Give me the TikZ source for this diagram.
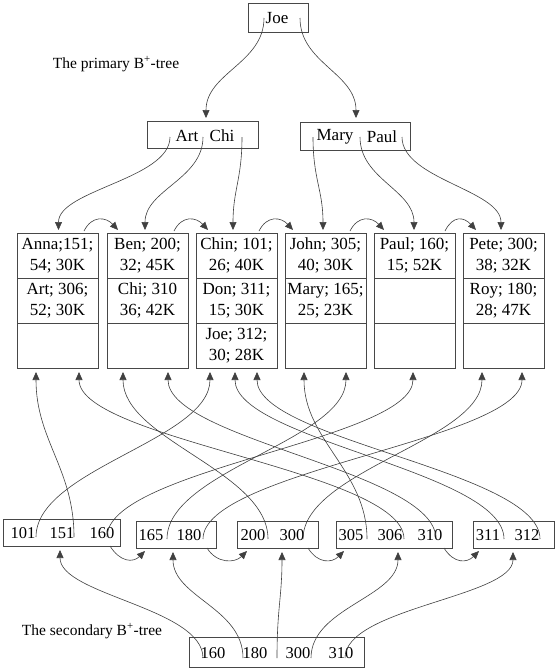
\documentclass[tikz,border=0pt]{standalone}
\usepackage{fontspec}
\setmainfont{Liberation Serif}
\usetikzlibrary{arrows.meta}
\begin{document}
\begin{tikzpicture}[x=1pt,y=-1pt,
  box/.style={draw=black!72,line width=0.9pt,inner sep=0pt,fill=none},
  cell/.style={box,minimum width=81pt,minimum height=45pt,align=center,
    font=\fontsize{17}{20.5}\selectfont},
  lbl/.style={inner sep=0pt,font=\fontsize{17}{20}\selectfont},
  num/.style={inner sep=0pt,font=\fontsize{16.5}{19}\selectfont},
  captext/.style={inner sep=0pt,font=\fontsize{15.5}{18}\selectfont},
  ptr/.style={draw=black!75,line width=0.6pt,-{Triangle[length=8pt,width=7pt]}}]
\useasboundingbox (0,0) rectangle (556,670);
\fill[white] (0,0) rectangle (556,670);

% ---------- primary tree ----------
\node[box,minimum width=60pt,minimum height=29pt] (joe) at (278,17.5) {};
\node[lbl] (joet) at (277,18) {Joe};
\node[captext] (ptitle) at (116,64) {The primary B\textsuperscript{+}-tree};

\node[box,minimum width=111pt,minimum height=27pt] (ac) at (202.5,134.5) {};
\node[lbl] (art) at (187,136) {Art};
\node[lbl] (chi) at (222,136) {Chi};
\node[box,minimum width=110pt,minimum height=28pt] (mp) at (355,136) {};
\node[lbl] (mary) at (335,137) {Mary};
\node[lbl] (paul) at (382,137) {Paul};

% leaf cells
\node[cell] (b1r1) at (57.5,255.5) {Anna;151;\\54; 30K};
\node[cell] (b1r2) at (57.5,300.5) {Art; 306;\\52; 30K};
\node[cell] (b1r3) at (57.5,345.5) {};
\node[cell] (b2r1) at (147.5,255.5) {Ben; 200;\\32; 45K};
\node[cell] (b2r2) at (147.5,300.5) {Chi; 310\\36; 42K};
\node[cell] (b2r3) at (147.5,345.5) {};
\node[cell] (b3r1) at (236.5,255.5) {Chin; 101;\\26; 40K};
\node[cell] (b3r2) at (236.5,300.5) {Don; 311;\\15; 30K};
\node[cell] (b3r3) at (236.5,345.5) {Joe; 312;\\30; 28K};
\node[cell] (b4r1) at (325.5,255.5) {John; 305;\\40; 30K};
\node[cell] (b4r2) at (325.5,300.5) {Mary; 165;\\25; 23K};
\node[cell] (b4r3) at (325.5,345.5) {};
\node[cell] (b5r1) at (414.5,255.5) {Paul; 160;\\15; 52K};
\node[cell] (b5r2) at (414.5,300.5) {};
\node[cell] (b5r3) at (414.5,345.5) {};
\node[cell] (b6r1) at (503.5,255.5) {Pete; 300;\\38; 32K};
\node[cell] (b6r2) at (503.5,300.5) {Roy; 180;\\28; 47K};
\node[cell] (b6r3) at (503.5,345.5) {};

% pointer stubs and tips (primary)
\coordinate (j1) at (264,18);  \coordinate (j2) at (300,18);
\coordinate (tac) at (206,118); \coordinate (tmp) at (356,118);
\coordinate (a1) at (170,137); \coordinate (a2) at (203,137); \coordinate (a3) at (242,137);
\coordinate (m1) at (313,137); \coordinate (m2) at (360,137); \coordinate (m3) at (402,137);
\coordinate (tb1) at (58.5,230); \coordinate (tb2) at (145,230); \coordinate (tb3) at (233,230);
\coordinate (tb4) at (323,230);  \coordinate (tb5) at (414,230); \coordinate (tb6) at (501,230);

\draw[ptr] (j1) .. controls +(0,45) and +(0,-45) .. (tac);
\draw[ptr] (j2) .. controls +(0,45) and +(0,-45) .. (tmp);
\draw[ptr] (a1) .. controls +(0,42) and +(0,-40) .. (tb1);
\draw[ptr] (a2) .. controls +(0,42) and +(0,-40) .. (tb2);
\draw[ptr] (a3) .. controls +(0,42) and +(0,-40) .. (tb3);
\draw[ptr] (m1) .. controls +(0,42) and +(0,-40) .. (tb4);
\draw[ptr] (m2) .. controls +(0,42) and +(0,-40) .. (tb5);
\draw[ptr] (m3) .. controls +(0,42) and +(0,-40) .. (tb6);

% sibling pointers (primary leaves)
\foreach \s/\e/\n in {84/118/1,174/208/2,259/293/3,350/384/4,445/476/5}{
  \coordinate (ps\n) at (\s,231);
  \coordinate (pe\n) at (\e,230);
  \draw[ptr] (ps\n) .. controls +(8,-16) and +(-12,-13) .. (pe\n);
}

% ---------- secondary tree ----------
\node[box,minimum width=117pt,minimum height=27pt] (sa) at (61.5,532.5) {};
\node[box,minimum width=80pt,minimum height=27pt] (sb) at (176,534.5) {};
\node[box,minimum width=81pt,minimum height=27pt] (sc) at (277.5,534.5) {};
\node[box,minimum width=116pt,minimum height=27pt] (sd) at (394,534.5) {};
\node[box,minimum width=81pt,minimum height=27pt] (se) at (513.5,534.5) {};

\node[num] (k101) at (23,533) {101};
\node[num] (k151) at (62,533) {151};
\node[num] (k160) at (102,533) {160};
\node[num] (k165) at (151,535) {165};
\node[num] (k180) at (189,535) {180};
\node[num] (k200) at (253,535) {200};
\node[num] (k300) at (292,535) {300};
\node[num] (k305) at (351,535) {305};
\node[num] (k306) at (390,535) {306};
\node[num] (k310) at (430,535) {310};
\node[num] (k311) at (488,535) {311};
\node[num] (k312) at (527,535) {312};

\node[box,minimum width=175pt,minimum height=30pt] (root) at (276.5,652) {};
\node[num] (r160) at (213,653) {160};
\node[num] (r180) at (255,653) {180};
\node[num] (r300) at (298,653) {300};
\node[num] (r310) at (341,653) {310};
\node[captext] (stitle) at (92,631) {The secondary B\textsuperscript{+}-tree};

% secondary leaf pointers to records
\foreach \x/\y/\t/\n in {36/537/210/101, 74/537/36/151, 107/537/413/160,
  167/539/346/165, 203/539/522/180, 268/539/123/200, 303/539/482/300,
  367/539/304/305, 404/539/79/306, 436/539/168/310, 504/539/235/311,
  540/539/257/312}{
  \coordinate (sp\n) at (\x,\y);
  \coordinate (rt\n) at (\t,372);
  \draw[ptr] (sp\n) .. controls +(0,-68) and +(0,68) .. (rt\n);
}

% root pointers
\foreach \x/\t/\ty/\n in {203/60/550/1, 243/173/552/2, 277/282/552/3, 311/398/552/4, 345/513/552/5}{
  \coordinate (rs\n) at (\x,658);
  \coordinate (rl\n) at (\t,\ty);
  \draw[ptr] (rs\n) .. controls +(0,-50) and +(0,45) .. (rl\n);
}

% secondary sibling pointers
\foreach \s/\sy/\e/\n in {110/546/145/1, 207/548/247/2, 308/548/344/3, 444/548/479/4}{
  \coordinate (ss\n) at (\s,\sy);
  \coordinate (se\n) at (\e,551);
  \draw[ptr] (ss\n) .. controls +(10,16) and +(-12,12) .. (se\n);
}
\end{tikzpicture}
\end{document}
